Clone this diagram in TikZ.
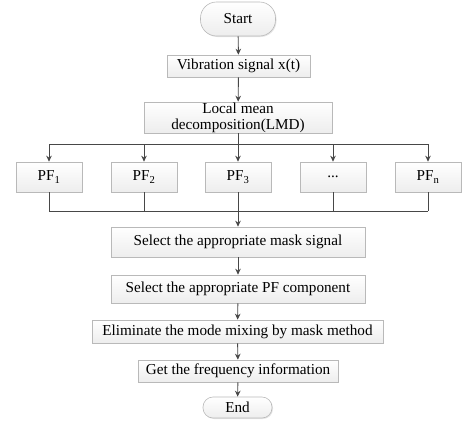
\documentclass[tikz,border=0pt]{standalone}
\usepackage{fontspec}
\setmainfont{Liberation Serif}
\usetikzlibrary{arrows.meta,shadows}
\begin{document}
\begin{tikzpicture}[x=1pt,y=-1pt,
  box/.style={draw=gray!55, line width=0.6pt, top color=white, bottom color=gray!14,
    drop shadow={shadow xshift=1pt,shadow yshift=-1pt,fill=gray!25,opacity=0.8},
    inner sep=0pt, align=center, font=\fontsize{15.2}{16}\selectfont},
  term/.style={box, rounded corners=10pt},
  conn/.style={draw=black!72, line width=0.9pt},
  arr/.style={conn, -{Stealth[length=6pt,width=5.5pt]}}]
\useasboundingbox (0,0) rectangle (474,431);
\node[term, rounded corners=16pt, minimum width=75pt, minimum height=34pt] (start) at (238,19) {Start};
\node[box, minimum width=143pt, minimum height=22pt] (vib) at (238.5,66) {Vibration signal x(t)};
\node[box, minimum width=188pt, minimum height=31pt] (lmd) at (238,117.5) {Local mean\\decomposition(LMD)};
\node[box, minimum width=66pt, minimum height=30pt] (pf1) at (49,177) {PF\textsubscript{1}};
\node[box, minimum width=66pt, minimum height=30pt] (pf2) at (144,177) {PF\textsubscript{2}};
\node[box, minimum width=66pt, minimum height=30pt] (pf3) at (238,177) {PF\textsubscript{3}};
\node[box, minimum width=66pt, minimum height=30pt] (pfd) at (333,177) {...};
\node[box, minimum width=66pt, minimum height=30pt] (pfn) at (428,177) {PF\textsubscript{n}};
\coordinate (topbus) at (238,144);
\coordinate (botbus) at (238,211);
\node[box, minimum width=254pt, minimum height=30pt] (sel1) at (238,242) {Select the appropriate mask signal};
\node[box, minimum width=254pt, minimum height=28pt] (sel2) at (238,289) {Select the appropriate PF component};
\node[box, minimum width=291pt, minimum height=23pt] (elim) at (237.5,331.5) {Eliminate the mode mixing by mask method};
\node[box, minimum width=200pt, minimum height=22pt] (getf) at (238,371) {Get the frequency information};
\node[term, minimum width=69pt, minimum height=21pt] (end) at (237.5,407.5) {End};
\draw[arr] (start) -- (vib);
\draw[arr] (vib) -- (lmd);
\draw[arr] (lmd) -- (pf3);
\draw[conn] (pf1.north |- topbus) -- (pfn.north |- topbus);
\foreach \n in {pf1,pf2,pfd,pfn}
  \draw[arr] (\n.north |- topbus) -- (\n);
\foreach \n in {pf1,pf2,pfd,pfn}
  \draw[conn] (\n) -- (\n.south |- botbus);
\draw[conn] (pf1.south |- botbus) -- (pfn.south |- botbus);
\draw[arr] (pf3) -- (sel1);
\draw[arr] (sel1) -- (sel2);
\draw[arr] (sel2) -- (elim);
\draw[arr] (elim) -- (getf);
\draw[arr] (getf) -- (end);
\end{tikzpicture}
\end{document}
